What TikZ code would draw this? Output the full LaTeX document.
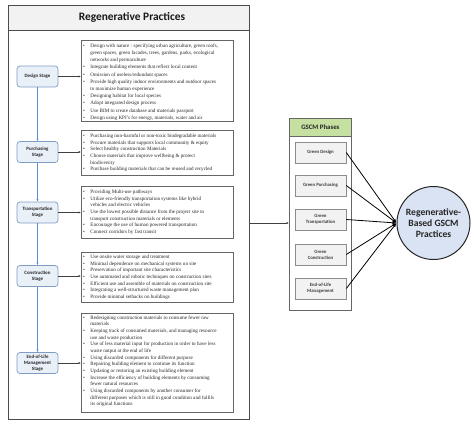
\documentclass[tikz,border=0pt]{standalone}
\usepackage{fontspec}
\setmainfont{Liberation Serif}
\newfontfamily\calfont{Carlito}
\usetikzlibrary{arrows.meta}
\definecolor{stagefill}{RGB}{234,240,248}
\definecolor{stageborder}{RGB}{128,156,196}
\definecolor{flowblue}{RGB}{91,139,208}
\definecolor{headfill}{RGB}{242,242,242}
\definecolor{greenfill}{RGB}{197,224,160}
\definecolor{phasefill}{RGB}{242,242,242}
\definecolor{circfill}{RGB}{218,227,243}
\newcommand{\blist}[2]{{\fontsize{5.1}{#1}\selectfont\color{black!85}\begin{tabular}{@{}l@{\hspace{5.5pt}}l@{}}#2\end{tabular}}}
\begin{document}
\begin{tikzpicture}[x=1pt,y=-1pt,
  stagebox/.style={draw=stageborder, fill=stagefill, rounded corners=3pt, line width=0.7pt,
    minimum width=41pt, minimum height=21pt, inner sep=0pt, align=center,
    font=\calfont\bfseries\fontsize{4.9}{5.7}\selectfont, text=black!85},
  listbox/.style={draw=black!60, line width=0.6pt, anchor=north west, inner sep=0pt, minimum width=152pt},
  listtext/.style={anchor=west, inner sep=0pt, align=left},
  phasebox/.style={draw=black!45, fill=phasefill, line width=0.6pt, minimum width=51pt, minimum height=21pt,
    inner sep=0pt, align=center, font=\calfont\bfseries\fontsize{4.8}{6}\selectfont, text=black!75},
  blueflow/.style={draw=flowblue, line width=0.6pt, -{Latex[length=2.5pt,width=2.2pt]}},
  feed/.style={draw=black!75, line width=0.6pt, -{Latex[length=2.5pt,width=2.2pt]}},
  spoke/.style={draw=black, line width=0.8pt, -{Latex[length=4pt,width=3pt]}}
]
\useasboundingbox (0,0) rectangle (474,434);

% left panel
\node[draw=black!70, line width=1pt, anchor=north west, minimum width=241pt, minimum height=414pt, inner sep=0pt] (outer) at (8,5) {};
\node[draw=black!70, line width=1pt, fill=headfill, anchor=north west, minimum width=241pt, minimum height=25pt, inner sep=0pt] (head) at (8,5) {};
\node[font=\calfont\bfseries\fontsize{11.4}{13}\selectfont, text=black!90] (title) at (132,17.5) {Regenerative Practices};

% stage boxes
\node[stagebox] (s1) at (37.5,76.5) {Design Stage};
\node[stagebox] (s2) at (37.5,152) {Purchasing\\Stage};
\node[stagebox] (s3) at (37.5,212.5) {Transportation\\Stage};
\node[stagebox] (s4) at (37.5,276) {Construction\\Stage};
\node[stagebox] (s5) at (37.5,363) {End-of-Life\\Management\\Stage};

\draw[blueflow] (s1.south) -- (s2.north);
\draw[blueflow] (s2.south) -- (s3.north);
\draw[blueflow] (s3.south) -- (s4.north);
\draw[blueflow] (s4.south) -- (s5.north);

% list boxes
\node[listbox, minimum height=81pt] (l1) at (81,40) {};
\node[listbox, minimum height=45pt] (l2) at (81,130) {};
\node[listbox, minimum height=52pt] (l3) at (81,186) {};
\node[listbox, minimum height=50pt] (l4) at (81,252) {};
\node[listbox, minimum height=99pt] (l5) at (81,313) {};

\node[listtext] (t1) at ([xshift=2pt,yshift=-1pt]l1.west) {\blist{7.2pt}{%
\textbullet & Design with nature : specifying urban agriculture, green roofs,\\
 & green spaces, green facades, trees, gardens, parks, ecological\\
 & networks and permaculture\\
\textbullet & Integrate building elements that reflect local content\\
\textbullet & Omission of useless/redundant spaces\\
\textbullet & Provide high quality indoor environments and outdoor spaces\\
 & to maximize human experience\\
\textbullet & Designing habitat for local species\\
\textbullet & Adopt integrated design process\\
\textbullet & Use BIM to create database and materials passport\\
\textbullet & Design using KPI's for energy, materials, water and air\\
}};
\node[listtext] (t2) at ([xshift=2pt]l2.west) {\blist{6.67pt}{%
\textbullet & Purchasing non-harmful or non-toxic biodegradable materials\\
\textbullet & Procure materials that supports local community \& equity\\
\textbullet & Select healthy construction Materials\\
\textbullet & Choose materials that improve wellbeing \& protect\\
 & biodiversity\\
\textbullet & Purchase building materials that can be reused and recycled\\
}};
\node[listtext] (t3) at ([xshift=2pt]l3.west) {\blist{6.67pt}{%
\textbullet & Providing Multi-use pathways\\
\textbullet & Utilize eco-friendly transportation systems like hybrid\\
 & vehicles and electric vehicles\\
\textbullet & Use the lowest possible distance from the project site to\\
 & transport construction materials or elements\\
\textbullet & Encourage the use of human powered transportation\\
\textbullet & Connect corridors by fast transit\\
}};
\node[listtext] (t4) at ([xshift=2pt]l4.west) {\blist{6.67pt}{%
\textbullet & Use onsite water storage and treatment\\
\textbullet & Minimal dependence on mechanical systems on site\\
\textbullet & Preservation of important site characteristics\\
\textbullet & Use automated and robotic techniques on construction sites\\
\textbullet & Efficient use and assemble of materials on construction site\\
\textbullet & Integrating a well-structured waste management plan\\
\textbullet & Provide minimal setbacks on buildings\\
}};
\node[listtext] (t5) at ([xshift=2pt,yshift=1.5pt]l5.west) {\blist{6.67pt}{%
\textbullet & Redesigning construction materials to consume fewer raw\\
 & materials\\
\textbullet & Keeping track of consumed materials, and managing resource\\
 & use and waste production\\
\textbullet & Use of less material input for production in order to have less\\
 & waste output at the end of life\\
\textbullet & Using discarded components for different purpose\\
\textbullet & Repairing building element to continue its function\\
\textbullet & Updating or restoring an existing building element\\
\textbullet & Increase the efficiency of building elements by consuming\\
 & fewer natural resources\\
\textbullet & Using discarded components by another consumer for\\
 & different purposes which is still in good condition and fulfils\\
 & its original functions\\
}};

\draw[feed] (s1.east) -- (s1.east -| l1.west);
\draw[feed] (s2.east) -- (s2.east -| l2.west);
\draw[feed] (s3.east) -- (s3.east -| l3.west);
\draw[feed] (s4.east) -- (s4.east -| l4.west);
\draw[feed] (s5.east) -- (s5.east -| l5.west);

% GSCM phases
\node[draw=black!60, line width=0.8pt, anchor=north west, minimum width=62pt, minimum height=192pt, inner sep=0pt] (gscm) at (289,118) {};
\node[draw=black!60, line width=0.8pt, fill=greenfill, anchor=north west, minimum width=62pt, minimum height=18pt, inner sep=0pt,
  font=\calfont\bfseries\fontsize{6.8}{8}\selectfont, text=black!85] (ghead) at (289,118) {GSCM Phases};

\node[phasebox] (g1) at (320.5,152.5) {Green Design};
\node[phasebox] (g2) at (320.5,185.5) {Green Purchasing};
\node[phasebox] (g3) at (320.5,219.5) {Green\\Transportation};
\node[phasebox] (g4) at (320.5,254.5) {Green\\Construction};
\node[phasebox] (g5) at (320.5,288.5) {End-of-Life\\Management};

\node[circle, draw=black!85, line width=1pt, fill=circfill, minimum size=73pt, inner sep=0pt, align=center,
  font=\calfont\bfseries\fontsize{9.6}{11}\selectfont, text=black!85] (circ) at (433.5,223) {Regenerative-\\Based GSCM\\Practices};

\draw[feed] (outer.east |- circ.west) -- (gscm.west |- circ.west);

\draw[spoke] (g1.east) -- (circ.west);
\draw[spoke] (g2.east) -- (circ.west);
\draw[spoke] (g3.east) -- (circ.west);
\draw[spoke] (g4.east) -- (circ.west);
\draw[spoke] (g5.east) -- (circ.west);
\end{tikzpicture}
\end{document}
